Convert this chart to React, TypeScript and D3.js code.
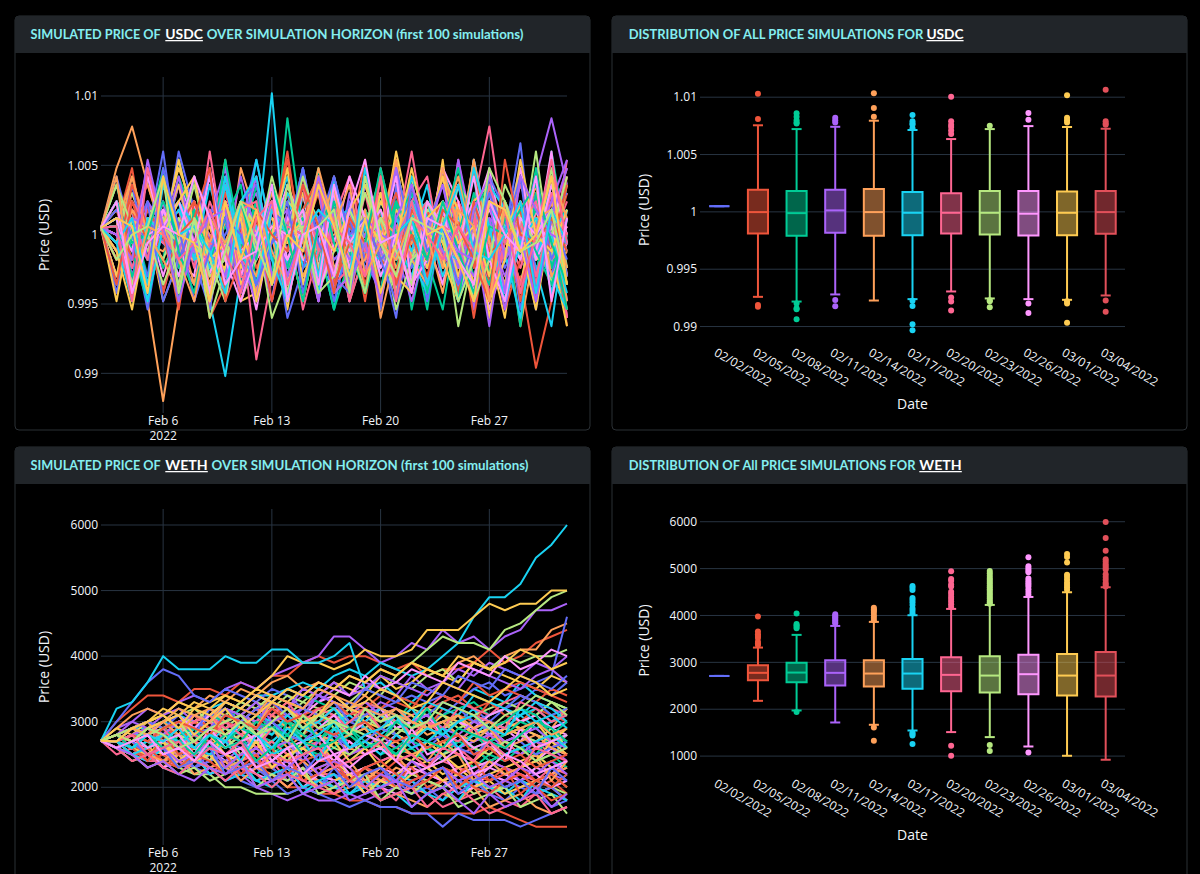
import React from 'react';
import * as d3 from 'd3';

// plotly default colorway, one colour per simulation trace / box
const COLORWAY = ['#636efa', '#EF553B', '#00cc96', '#ab63fa', '#FFA15A', '#19d3f3', '#FF6692', '#B6E880', '#FF97FF', '#FECB52'];
const BOX_COLORS = ['#636efa', '#EF553B', '#00cc96', '#ab63fa', '#FFA15A', '#19d3f3', '#FF6692', '#B6E880', '#FF97FF', '#FECB52', '#E2505A'];

const DAYS = d3.utcDay.range(new Date(Date.UTC(2022, 1, 2)), new Date(Date.UTC(2022, 2, 5)));
const LINE_TICKS = [new Date(Date.UTC(2022, 1, 6)), new Date(Date.UTC(2022, 1, 13)), new Date(Date.UTC(2022, 1, 20)), new Date(Date.UTC(2022, 1, 27))];
const LINE_TICK_LABELS = ['Feb 6', 'Feb 13', 'Feb 20', 'Feb 27'];

const BOX_DATES = ['02/02/2022', '02/05/2022', '02/08/2022', '02/11/2022', '02/14/2022', '02/17/2022', '02/20/2022', '02/23/2022', '02/26/2022', '03/01/2022', '03/04/2022'];

// simulated paths, one letter per day (Feb 3 .. Mar 4), levels
// USDC: 'z' = 1.0000, each letter step = 0.0006 ; WETH: 'a' = 1000, each step = 100
const LEVELS = 'abcdefghijklmnopqrstuvwxyzABCDEFGHIJKLMNOPQRSTUVWXYZ';
const USDC_START = 1.0005;
const USDC_BASE = 0.985;
const USDC_STEP = 0.0006;
const WETH_START = 2710;
const WETH_BASE = 1000;
const WETH_STEP = 100;

const USDC_PATHS = [
  'CxGzt AyBsD wzHuA rBxEy vCzqA DwtBF', 'wEzsB yAuDx FrzCy BtAIw xzDvB sujrz', 'zBuAF xsCyD wAzHt BvyEz qCxAu DzwJy', 'AtDyw CzrBE xvAzG yuBxC tzFwA ByGNF',
  'uArfr BzwDx AtEyz CsBxF yAvzD wGxuB', 'BwzCt AriuB zEwAs CyBxz FvAyD wtBzC', 'yFAsz DqBtw AzGyu CwHzE xAvDM zsCwI', 'AuzBy GwCxs zAEvB rxCtA zDwIu yAxFz',
  'zBxDw uHyCz rBEwA yCvzB tDxAq wBzEu', 'xAzGv BwDrs AzBxE uCyJA zDvBp AtCzy', 'DvAzB wqCuA yEzBt xAwHz yCsBA vzEwr', 'uBFzx AwyDv zEAxt BrCwy ADuxG zvACp',
  'AzwBs DuyCA tzHwB xAyvC rDBuw AxzFy', 'zCrAD wCxBs DvzAu EwByx CtAqD wBvyG', 'HMFzA ywIuz ECxGt yBsDw AvxCz BoyAE', 'wzBAy CuFxy QvEBw yzCtA xHBzv AyCwq',
  'BAxzC vDyAk uzBEx CyAzt DwIxA zvCyD', 'yBwCz AxDvA puByE wCxzG sDyBw zAuCx', 'AwzyF BxCuz AyEvt xzwCA yDtBH xAwCv', 'CzyAx wBDuA zqCvE xBzIw DyuCx zBAyt',
  'tBzJw AxGuy CzrAD wBqFv zAsCx DqzBu', 'AyDvz CptBG wAzEu yIrCz xAwHt BzyCo', 'zwCAs ByDxF uNzvB tCyEz wqBxA DzuGy', 'DuAzx BwEyr AzCtB xFzwA yvIzB sAxCp',
  'xzAGw yBuCz DsAxE zwBvy CArzD xBtAF', 'BvyzI AwxCt zEByq AxDzu BwFyA zCvoB', 'yAsBz wJxCA uzEyB rxAzC wDvBy AtzGp', 'ACwzr ByuDA zsBxE wyAHz tBoxw zAyHv',
  'zxBuA DwCyq AtBxF zyvAC wBsDz xAyJu', 'uDzAy BxwCr zAEyB vxDzA wItBy zFAxo', 'AzqBw tCxAI zvHyE AwxpC rBAyD zKuBx', 'wBAzF xuCyA zJwsB AyxEz CvBpA yzDtC',
  'CyzwG BsDxz AvCyq wEzAx tByCz DwHvy', 'zAxCv yBtDz wAFxB yzsCA xDwIz uAyEr', 'BwyAz DxuHB zAwyE tCpxA BvDyw AzrCB', 'xCzAu BywDz AGvxB zyEAw sBzCx yADuq',
  'AvBzs CwxDA zuByC xEwzJ yBtCz wDAxv', 'yzCBw ApvDz BAuyC zwExA ByFCz AwDxB', 'DAwzy BxuCz ArBvD wzCxA ytBzE xAwCy', 'zByAH CwvDA zyBuC xAEwz BysAC zDwxA',
  'GzuBy AwDtz CxFAr yBzEw vAsDx BzyCt', 'yCwAq BxEzu DyAtB zwGxC AuzBy DrAxE', 'AxBvz DsCyA wzFuB yAxDq zCwEy BAtzx', 'uAzDw xBHyz ACtBw yFAzx vDBzo ACywB',
  'zDyxA tBCwz EAuyB xzGsA yCwBv zAxDr', 'BtAzC ywDxI zuAyB CxwzE sAByD xzwCu', 'xyBzA DvCzw ABqxF yzAuC wBDzy tAxEz', 'AEzwB xyCuA zDBsx yAGzw CBvAy zxDtB',
  'wAzCy BuDxA zBwvE yAzsC xBFyz AwDuy', 'CzxBw yAuDz BxAtC zyEwB vAzDx pCyAz', 'zuByJ CwzDx ApvBE zxAsC yGwDz AHxuB', 'AwCzs BxDuA zIyrC wzAEx yBDvA qwCxG',
  'yBzHv CxAwD zuByF xAzwC sByDz AoEvB', 'BzyAw DuxGz AyBtE wzAxr yBvDz qAxCy', 'xAzBD ywuCA zrBEv yAzIw tBxAD zyFux', 'DzwAx BvyCz ArBxE zyAwG BuzDA xpBsC',
  'zCAyx BwDuz AxCyt vEzAw yHzCs xADwy', 'AyxBz CuwDA zyBvC xEzqw yBtzD AxJwF', 'wBzAy DsCuA zwByE vAzxC yHDsA zwCxA', 'ByArw CxDvA zyBuC wAEzx yGCtA zDwxB',
  'sBzGw AxuDF yAzrC BvxHz tAyDw BzqCE', 'AHwzt DyBxr CzFuA xBsyD zGwAv yCtzB', 'FxrAz CwIyu AzBtD xsyBE wAzGu DyrAC', 'zsDAx GyuBz rCxFA wzyHt ACxuB zsyDI',
  'wCzGy AtBxs DzAFv yBrzC xHAwz tDyBq', 'BrAzD wFyxA tzCGy uAzsB DxwIz AyrCv', 'yzHAs BwDut zAFxC rByzD GwAxt zCuBH', 'DtzAy FxBrw CAzGu yBxsD zAwHy tCzBv',
  'AxGzu BsyDw zFArC xByGt wAzDy sBxFz', 'uByzI AxsCw DzrAF yBwtC zGxAu DyqBz', 'zFwAt yCBrx AzHyu DwsBz AFxyr CzGwB', 'CwzsA DyFxB rzAuG yxBtC zAwHy DsAxF',
  'tAyDz GwBxr AzCFu ysBzD wAHxt ByCzq', 'AsBzF xwDyG uzArC yBxtD zFwAy rCzBH', 'yGzAw tBxDr CzyFA uwBsz DAxIy tzBCv', 'BzrAD wxGyA tzCuF yAsBx DzwHA ryBzC',
  'xDAzr ByFwu CAzsB GxytA DzwBr yFAzu', 'FyBzt AwDrx CzGAu ysBzD xAwtF zBrCy', 'zAtCy BrDxz FwAsy GBzuA xDrzC yHwAt', 'rBzAF ywCtx DzAGs uByCz AwrDF yxBzt',
  'AzDrw BGyxt CAzFu sBwyD zArxG CyzBu', 'wFAzs ByDrx AzCGt yBwuF zAsDx yCrBz', 'DyzAr CwBFt zAxGy uBsDz wArCF yBxtz', 'tBAzG yxDwr CzAFs uBzyD AxtCG wzrBy',
  'AGzws ByDxu CzrAF tyBzD wAGxr CzyBt', 'yrBzD AwFxt CzAsG yBuxD zArwF CyBzs', 'zBwFA ryxCD tAzGu BysxD wAzrF yBtCz', 'FAzty BwrDx GzAsu CyBxt DzArw FByzG',
  'BszAD yGwrx AzCtF yBuzs DAxGw rBzCy', 'xqAzD GwyBr zHtAx CFzus BDyAr wIzxC', 'CzuHA rxBzt yDsAG zBwrF xAtyE zGsBw', 'tDyAz BHrwC zxFAs ByGtz uCAwr IzyBx',
  'AuzGx sByDw FzrAC tyHzB wDxsA zCFyt', 'zwIAr yBCsx DuzGA tyrBF zAxwD sGCzy', 'GsAzw rByDC xtzHA FuywB zsCAr DxzGB', 'yBtFz AxsDG wrzCA uHyzB tAFxw zDsCy',
  'ArHzw yCxsB DtzFA yuGrB zwAxD CszIy', 'wzAGs BrxDy tFzAC sGyuB AzrwH DxyCt', 'DsyAz GBtwx FrzAu CIyzs BAwtD zxGrB', 'BAsGz yrDwC tzxFA uBsyH zAwrD CxzGt',
];

const WETH_PATHS = [
  'sqrqp oprqs rtsuv utvsr qsrtu tsrqs', 'uwyyx zzyAz BBDED EEDCD BCCDF DEGHI', 'qrpon oqpnm onlmk lmklm nlmno mlnon', 'tuwvx yxzAz BCDEH HFDEG FIGHF HILLM',
  'tvwvx wyxzy ABzAz BACBD CBDEC EFFIJ', 'sttuv uwxwy yzAzB CBDCB CEGKN NPTVY', 'qstrs rtuts vutsr stqrs qrpqo pqrpq', 'rsqst sutvu wvxwv xzyBD FHGGF IJLNO',
  'rpqop nopmn lmnlk mlkjk lkmln mlkmn', 'stuvx wxyxz BEDDC DFEEF IIIKM LMMOO', 'uxACB yxzyx zywyx vwuvt uvxwu wxzyA', 'qppon onmnl mkkjj iihhg ggggh gfeee',
  'srtsu tvuts rtsqr stqpr qopnp oqpno', 'rtsuv tvwuw xwyxz yAzyB zACBD CBDCE', 'qrpqo pnomn nolmm kmlnm lnmon pnoqp', 'wxAEC CCEDD FFDDE GzAyx zyxzy xAyxw',
  'rqsrt surst qrpqs rpqop nonmo nmlmn', 'stuvt vuwvx wyxzy AzBAz BCADC EDEEF', 'qrpqr opnpo nolmn mlnmo nlmkl mlnmo', 'rsrts utvuw vxwvu wutsu tvust rsqrs',
  'rsqrt svutv uwvuw xvwxy xyxzA yzABK', 'rqpqo pnomo nplmn lmkln mlkmk lmklj', 'srsqr tsrtu sutvt uwvux wvwxv wyxvw', 'qopno mnlmk jijii jijkj klklm lklml',
  'sqrsp qrpqr oqpro qprqp orqsq rpqsr', 'rtsut rsutv uwtvu swvtu vtuws uvtuw', 'pqoop nmonl mkmlk jlkil jhijk ihjki', 'qpqpn mmkkj jjkjk lklkm lkljk kljkj',
  'stuts vuwvu xwvxy wxwvu vtuts utsrs', 'rqrpq ropqn pomno mnlmn omnlm nopno', 'rqpop nmnlk ljkji hihhg gegff fefgh', 'srsts usuvt uwvuw vxwyx wxywx zyxzy',
  'rqrps qrqso prqpr oqrps rqsrt qsrqs', 'stusu vtwvu xwvyx wvxwu vtuvs tuvtu', 'qrpnp opnmo nlmkl mnlmk jlkmj kljki', 'rssqr srtsq rtsur svtus tsrtq rsqpr',
  'rpqpo nopmn olmnl mkllk mlnmo nmlnm', 'srtrs qstrs tusvu wtvuw vtuvw xwvxw', 'qrspq rqops qrpqo rpqsr tsqrs truts', 'tsuvt uwvxw yxzyA zyBzA CBADC BAzBA',
  'rqoqp nopmo nlmkm ljklj kilkj ikjhi', 'srqst rsuts trsuv tuwvu twvux vuwvu', 'rstuw vuxwy xzyxw vxwuv tusrt stusr', 'qporq pnoqp nomno lnmkl mnlmo nlmno',
  'rsqrs prqsr tqsrt surtu stvsu tuvtw', 'qopnm onlml kmjlk jkijh jiklj kilkm', 'srtsu tvusu wvtuw vxwuv wyxwv xyxwv', 'rtsuv wuvxw yxwvw uvtus tusqr stqrq',
  'rqspq orpqo pnqop mnopo npmno pnoqp', 'rsqpr qsrtq rpqsr qrtsr uqrsr tsurt', 'qrpoq npomn lmokn lmnkl jkmlj kljki', 'ststu vtuwv xuvwx vwyxw zyxAy zAzyx',
  'rqrsq pqsrp qropq sqrpo qprsq rqpsr', 'sutvw uvxwy xwzyA yzBAz yAzCB AzBCA', 'qpnop mnoln mkmlj kliji hjikh ijhgh', 'rsqrt sqrts urtsu vtsuw tuvsu tvwuv',
  'rsrqp rqsop rpqrn pqops qrqos rprqs', 'qrpqs rtqsr tuswt uvtsu wvtuv wuvxw', 'rpqno pmnom lnkml mjlkn mljkm lnmkl', 'stuwv xwyxz yxwvx wvuwv tuvst utsrs',
  'rsrtu stvuw tuwvx uvwtu vxwuv wyxvw', 'qropn oqpmo nplmo nlmon klmol mnlkm', 'srtus tvuwv tusrt sqrpq oprqo pqopn', 'rqsrp qosrp qrors pqsqr opqrs qprqo',
  'sturt uvsuw vtusr stqrp qrpoq pnomn', 'qpoqn pmnol mnklm jlkml jkilk jlkji', 'rstrs uvtuw vxuwv tuwvt usrtq rsqrq', 'rqsrp qospr qorsq prqos rpqsr qsrtq',
  'srqrt sqstr usrtv suwtu vsutv wuvtu', 'qoprn opmno lnmkl mjlkm nlmkl jklmk', 'rtsuv tvwuw xvwyx wzyxA zyBAz CBAzB', 'rpqon pomnp lnmoo lnmkl mnkml njlmk',
  'sqrtr sqrts purqs trpqs rtsqr sutrs', 'rstsu vuwvx uvwyx wxvwu vtsut rstrq', 'qrpoq prnoq npomn olnpm noplo mnplo', 'rqrsq tsrut svtuw tuwvu xwvyx wvxwu',
  'rsrtq srusq trvts uwtvs utwvu txwuv', 'qpnom nlmok mlnjk lmikj lkhij khijg', 'rtsuv tvxwy xzyAz yBzAC BADCB ECDFE', 'rqpro qspor npqor oqnpo rpnoq pnorp',
  'stutv swuvt usrts qrtsq rsqpr qrpqr', 'rqosp qrnpo qmopn lnomk lnmkj lmkij', 'rsqrs tqsru tsvru tsrut wsuvt uwvsu', 'qrpqo prnpq onpmo nkmlo mnlmk lnmom',
  'srtus vwuvt xwuvx wywvu tusrt qrsqp', 'rpqsr qpros pqrot qrpsq rtqsr pqrsq', 'qopnm onlnm kmlkj lkijk hjkig hijgh', 'ststu rtuvs uwtvu tsrts qrsqp rqopq',
  'rsqrs ptqrs oqrsp qsrot pqsqr otqrs', 'srtuv suwtv xwuvy wxzyw xAzyx zBAyz', 'qrpqn oqmno lnmpn kmnlk mnjlm kljnl', 'rsrtu tsvut wuvts tusrs qrspq opnop',
  'rqsqr psqro qspqr tqrps rqtsr qsutr', 'qpnom lnmok lmjkl ijklh jkigj hikhj', 'rtsuw vuxwv yxwzy xwvwu tuvtu stust', 'rqsrt qsrus qtrsu qstvr tsuvt swuvt',
  'rspqr oqprn popqn oprop nqpor pnqpo', 'srtsq rtsus trvtu swuvt uxwvt vwyxv', 'qrspq orpqn oqmop npqom noqmn pomno', 'rtuvt wvxwy xzyAz BACBD CBEDC DFECD',
];

// box statistics of all simulations, every third day
const USDC_LO = [1.0005, 0.99259, 0.99218, 0.9928, 0.99227, 0.99239, 0.99306, 0.99245, 0.99239, 0.99233, 0.99271];
const USDC_Q1 = [1.0005, 0.99811, 0.99791, 0.99817, 0.99791, 0.99796, 0.99811, 0.99802, 0.99794, 0.99796, 0.99809];
const USDC_MED = [1.0005, 0.99998, 0.99989, 1.00013, 0.99998, 0.99992, 0.99992, 0.99992, 0.99984, 0.99992, 0.99998];
const USDC_Q3 = [1.0005, 1.00194, 1.00182, 1.00194, 1.00199, 1.00173, 1.00162, 1.00182, 1.00182, 1.00177, 1.00182];
const USDC_HI = [1.0005, 1.00755, 1.00722, 1.00742, 1.00795, 1.00714, 1.00635, 1.00722, 1.00748, 1.0074, 1.00725];
const USDC_OUT = [
  [],
  [1.0103, 1.0081, 0.99187, 0.99172],
  [1.0086, 1.0083, 1.008, 1.0078, 1.0077, 0.992, 0.9916, 0.9915, 0.99064],
  [1.0082, 1.008, 1.0078, 0.99231, 0.99178],
  [1.01035, 1.00906, 1.0083],
  [1.00845, 1.0079, 1.0077, 1.0076, 1.0073, 0.99224, 0.9918, 0.9902, 0.98968],
  [1.01003, 1.0079, 1.0076, 1.0074, 1.0071, 1.0068, 0.99253, 0.99218, 0.9914],
  [1.0075, 0.9923, 0.9922, 0.99169],
  [1.00862, 1.00804, 0.992, 0.99119],
  [1.01018, 1.0082, 1.008, 1.0078, 0.9922, 0.992, 0.99034],
  [1.01064, 1.0079, 1.0077, 1.0076, 0.99228, 0.99128],
];

const WETH_LO = [2710, 2179, 1973, 1717, 1668, 1546, 1512, 1405, 1205, 1007, 922];
const WETH_Q1 = [2710, 2620, 2578, 2505, 2484, 2435, 2386, 2357, 2322, 2292, 2271];
const WETH_MED = [2710, 2776, 2782, 2776, 2761, 2761, 2733, 2718, 2747, 2718, 2718];
const WETH_Q3 = [2710, 2940, 2989, 3047, 3047, 3074, 3110, 3132, 3160, 3180, 3223];
const WETH_HI = [2710, 3315, 3586, 3777, 3863, 4005, 4140, 4225, 4395, 4495, 4602];
const WETH_OUT = [
  [],
  [3976, 3656, 3600, 3560, 3520, 3440, 3400, 3372],
  [4040, 3820, 3790, 3760, 3730, 1940],
  [4027, 3990, 3960, 3930, 3900, 3860, 3835],
  [4167, 4130, 4100, 4060, 4000, 3950, 3900, 1610, 1327],
  [4630, 4590, 4545, 4375, 4330, 4280, 4225, 4150, 4100, 4050, 1500, 1470, 1440, 1256],
  [4943, 4780, 4740, 4660, 4620, 4508, 4460, 4400, 4350, 4300, 4240, 4180, 1220, 1007],
  [4950, 4900, 4850, 4800, 4760, 4720, 4680, 4640, 4600, 4560, 4520, 4480, 4440, 4400, 4360, 4320, 4280, 4250, 1235, 1107],
  [5240, 5050, 5000, 4960, 4920, 4790, 4740, 4700, 4660, 4620, 4560, 4500, 4440, 1077],
  [5310, 5250, 5130, 4870, 4820, 4760, 4700, 4650, 4600, 4550],
  [5994, 5653, 5382, 5200, 5150, 5100, 5060, 5020, 4980, 4880, 4820, 4760, 4700, 4660, 4620],
];

const USDC_TICKS = [0.99, 0.995, 1, 1.005, 1.01];
const WETH_LINE_TICKS = [2000, 3000, 4000, 5000, 6000];
const WETH_BOX_TICKS = [1000, 2000, 3000, 4000, 5000, 6000];

const FONT = "'Open Sans', verdana, arial, sans-serif";
const TICK_COLOR = '#f2f5fa';
const GRID = '#283442';
const TITLE_COLOR = '#84eef0';

type Plot = { x0: number; x1: number; y0: number; y1: number };
// a title piece: text, left x, width, highlighted (white + underlined)
type Piece = [string, number, number, boolean];

const decode = (s: string, base: number, step: number) =>
  s.replace(/ /g, '').split('').map(c => base + LEVELS.indexOf(c) * step);

const fmtNum = (v: number) => d3.format('')(+v.toFixed(4));

function Card({ x, y, w, h, pieces }: { x: number; y: number; w: number; h: number; pieces: Piece[] }) {
  return (
    <g>
      <rect x={x} y={y} width={w} height={h} rx={4} fill="#000" stroke="#2b3035" />
      <path d={`M${x},${y + 37} V${y + 4} a4,4 0 0 1 4,-4 H${x + w - 4} a4,4 0 0 1 4,4 V${y + 37} Z`} fill="#212529" />
      {pieces.map(([t, px, pw, hl]) => (
        <text key={t} x={px} y={y + 23} fontFamily="Lato, 'Open Sans', sans-serif" fontWeight={700} fontSize={12.8}
          fill={hl ? '#ffffff' : TITLE_COLOR} textLength={pw} lengthAdjust="spacingAndGlyphs"
          style={hl ? { textDecoration: 'underline' } : undefined}>
          {t}
        </text>
      ))}
    </g>
  );
}

function YTitle({ x, y }: { x: number; y: number }) {
  return (
    <text transform={`translate(${x},${y}) rotate(-90)`} textAnchor="middle" dominantBaseline="central"
      fontFamily={FONT} fontSize={14} fill={TICK_COLOR}>Price (USD)</text>
  );
}

function LinePanel({ plot, paths, start, base, step, domain, ticks }: {
  plot: Plot; paths: string[]; start: number; base: number; step: number; domain: [number, number]; ticks: number[];
}) {
  const x = d3.scaleUtc().domain([DAYS[0], DAYS[DAYS.length - 1]]).range([plot.x0, plot.x1]);
  const y = d3.scaleLinear().domain(domain).range([plot.y1, plot.y0]);
  const line = d3.line<number>().x((_, i) => x(DAYS[i])).y(v => y(v));
  const series = paths.map(p => [start, ...decode(p, base, step)]);
  return (
    <g>
      {LINE_TICKS.map((t, i) => (
        <line key={'v' + i} x1={x(t)} x2={x(t)} y1={plot.y0} y2={plot.y1} stroke={GRID} strokeWidth={1} />
      ))}
      {ticks.map(t => (
        <line key={'h' + t} x1={plot.x0} x2={plot.x1} y1={y(t)} y2={y(t)} stroke={GRID} strokeWidth={1} />
      ))}
      {series.map((s, i) => (
        <path key={i} d={line(s) || ''} fill="none" stroke={COLORWAY[i % 10]} strokeWidth={2} strokeLinejoin="round" />
      ))}
      {ticks.map(t => (
        <text key={'yl' + t} x={plot.x0 - 3} y={y(t)} dy="0.35em" textAnchor="end" fontFamily={FONT} fontSize={12} fill={TICK_COLOR}>
          {fmtNum(t)}
        </text>
      ))}
      {LINE_TICKS.map((t, i) => (
        <text key={'xl' + i} x={x(t)} y={plot.y1 + 12} textAnchor="middle" fontFamily={FONT} fontSize={12} fill={TICK_COLOR}>
          {LINE_TICK_LABELS[i]}
        </text>
      ))}
      <text x={x(LINE_TICKS[0])} y={plot.y1 + 27} textAnchor="middle" fontFamily={FONT} fontSize={12} fill={TICK_COLOR}>2022</text>
      <YTitle x={43} y={(plot.y0 + plot.y1) / 2 - 10} />
    </g>
  );
}

function BoxPanel({ plot, lo, q1, med, q3, hi, out, domain, ticks }: {
  plot: Plot; lo: number[]; q1: number[]; med: number[]; q3: number[]; hi: number[]; out: number[][];
  domain: [number, number]; ticks: number[];
}) {
  const x = d3.scaleBand().domain(BOX_DATES).range([plot.x0, plot.x1]);
  const y = d3.scaleLinear().domain(domain).range([plot.y1, plot.y0]);
  const bw = x.bandwidth() * 0.52;
  return (
    <g>
      {ticks.map(t => (
        <line key={'h' + t} x1={plot.x0} x2={plot.x1} y1={y(t)} y2={y(t)} stroke={GRID} strokeWidth={1} />
      ))}
      {BOX_DATES.map((d, i) => {
        const cx = (x(d) || 0) + x.bandwidth() / 2;
        const c = BOX_COLORS[i];
        const l = cx - bw / 2, r = cx + bw / 2;
        return (
          <g key={d}>
            <line x1={cx} x2={cx} y1={y(q3[i])} y2={y(hi[i])} stroke={c} strokeWidth={2} />
            <line x1={cx} x2={cx} y1={y(q1[i])} y2={y(lo[i])} stroke={c} strokeWidth={2} />
            <line x1={cx - bw / 4} x2={cx + bw / 4} y1={y(hi[i])} y2={y(hi[i])} stroke={c} strokeWidth={2} />
            <line x1={cx - bw / 4} x2={cx + bw / 4} y1={y(lo[i])} y2={y(lo[i])} stroke={c} strokeWidth={2} />
            <path d={`M${l},${y(q3[i])} H${r} V${y(q1[i])} H${l} Z`} fill={c} fillOpacity={0.5} stroke={c} strokeWidth={2} />
            <line x1={l} x2={r} y1={y(med[i])} y2={y(med[i])} stroke={c} strokeWidth={2} />
            {out[i].map((v, j) => (
              <circle key={j} cx={cx} cy={y(v)} r={3} fill={c} />
            ))}
          </g>
        );
      })}
      {ticks.map(t => (
        <text key={'yl' + t} x={plot.x0 - 3} y={y(t)} dy="0.35em" textAnchor="end" fontFamily={FONT} fontSize={12} fill={TICK_COLOR}>
          {fmtNum(t)}
        </text>
      ))}
      {BOX_DATES.map(d => (
        <text key={'xl' + d} transform={`translate(${(x(d) || 0) + x.bandwidth() / 2 - 6},${plot.y1 + 21}) rotate(30)`}
          fontFamily={FONT} fontSize={12} fill={TICK_COLOR}>{d}</text>
      ))}
      <text x={(plot.x0 + plot.x1) / 2} y={plot.y1 + 75} textAnchor="middle" fontFamily={FONT} fontSize={14} fill={TICK_COLOR}>Date</text>
      <YTitle x={643} y={(plot.y0 + plot.y1) / 2 + 3} />
    </g>
  );
}

export default function App() {
  return (
    <svg width={1200} height={874} style={{ position: 'absolute', left: 0, top: 0, display: 'block' }}>
      <rect width={1200} height={874} fill="#000" />
      <Card x={15} y={16} w={575} h={414} pieces={[
        ['SIMULATED PRICE OF', 30.6, 130.2, false], ['USDC', 165.3, 37.6, true],
        ['OVER SIMULATION HORIZON (first 100 simulations)', 206.7, 316.8, false]]} />
      <Card x={612} y={16} w={575} h={414} pieces={[
        ['DISTRIBUTION OF ALL PRICE SIMULATIONS FOR', 628.7, 294.7, false], ['USDC', 926.4, 37.2, true]]} />
      <Card x={15} y={447} w={575} h={440} pieces={[
        ['SIMULATED PRICE OF', 30.6, 130.2, false], ['WETH', 165.3, 42.5, true],
        ['OVER SIMULATION HORIZON (first 100 simulations)', 211.6, 316.8, false]]} />
      <Card x={612} y={447} w={575} h={440} pieces={[
        ['DISTRIBUTION OF All PRICE SIMULATIONS FOR', 628.7, 286.8, false], ['WETH', 919.3, 42.5, true]]} />

      <LinePanel plot={{ x0: 101, x1: 567, y0: 77, y1: 413 }} paths={USDC_PATHS} start={USDC_START}
        base={USDC_BASE} step={USDC_STEP} domain={[0.98714, 1.01137]} ticks={USDC_TICKS} />
      <LinePanel plot={{ x0: 101, x1: 567, y0: 509, y1: 845 }} paths={WETH_PATHS} start={WETH_START}
        base={WETH_BASE} step={WETH_STEP} domain={[1120, 6244]} ticks={WETH_LINE_TICKS} />

      <BoxPanel plot={{ x0: 700, x1: 1125, y0: 80, y1: 334 }} lo={USDC_LO} q1={USDC_Q1} med={USDC_MED} q3={USDC_Q3}
        hi={USDC_HI} out={USDC_OUT} domain={[0.98935, 1.0115]} ticks={USDC_TICKS} />
      <BoxPanel plot={{ x0: 700, x1: 1125, y0: 510, y1: 765 }} lo={WETH_LO} q1={WETH_Q1} med={WETH_MED} q3={WETH_Q3}
        hi={WETH_HI} out={WETH_OUT} domain={[810, 6250]} ticks={WETH_BOX_TICKS} />
    </svg>
  );
}
